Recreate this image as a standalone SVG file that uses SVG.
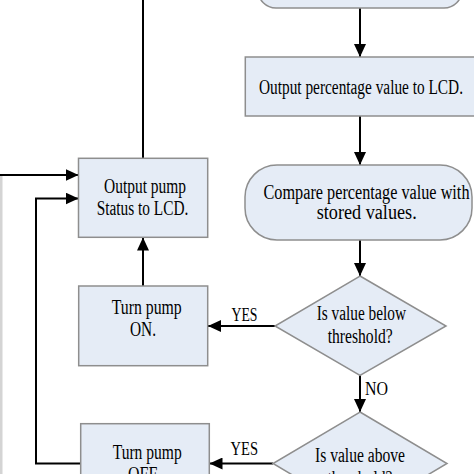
<svg xmlns="http://www.w3.org/2000/svg" width="474" height="474" viewBox="0 0 474 474">
<defs>
<marker id="arr" markerUnits="userSpaceOnUse" markerWidth="14" markerHeight="12" refX="13" refY="6" orient="auto">
<path d="M0,0 L13,6 L0,12 Z" fill="#000"/>
</marker>
<style>
.box{fill:#E5ECF6;stroke:#8E8E8E;stroke-width:1.5}
.ln{fill:none;stroke:#000;stroke-width:2}
.t{font-family:"Liberation Serif","Times New Roman",serif;font-size:20px;fill:#000}
.s{font-family:"Liberation Serif","Times New Roman",serif;font-size:18px;fill:#000}
</style>
</defs>
<rect width="474" height="474" fill="#fff"/>
<g id="connectors">
<line x1="1" y1="175" x2="1" y2="474" stroke="#d4d4d4" stroke-width="3"/>
<line class="ln" x1="143" y1="0" x2="143" y2="158"/>
<line class="ln" x1="360" y1="8" x2="360" y2="57" marker-end="url(#arr)"/>
<line class="ln" x1="360" y1="116" x2="360" y2="165" marker-end="url(#arr)"/>
<line class="ln" x1="360" y1="240" x2="360" y2="276" marker-end="url(#arr)"/>
<line class="ln" x1="275" y1="326" x2="208" y2="326" marker-end="url(#arr)"/>
<line class="ln" x1="143" y1="286" x2="143" y2="237.5" marker-end="url(#arr)"/>
<line class="ln" x1="360" y1="375" x2="360" y2="412" marker-end="url(#arr)"/>
<line class="ln" x1="273" y1="463.5" x2="209.5" y2="463.5" marker-end="url(#arr)"/>
<polyline class="ln" points="81,463.5 36,463.5 36,198.5 78.5,198.5" marker-end="url(#arr)"/>
<line class="ln" x1="0" y1="175" x2="78.5" y2="175" marker-end="url(#arr)"/>
<text class="s" x="231.5" y="321" textLength="26" lengthAdjust="spacingAndGlyphs">YES</text>
<text class="s" x="365" y="395" textLength="23" lengthAdjust="spacingAndGlyphs">NO</text>
<text class="s" x="230.5" y="455" textLength="27.5" lengthAdjust="spacingAndGlyphs">YES</text>
</g>
<g id="start">
<rect class="box" x="258" y="-60" width="204" height="68" rx="18"/>
</g>
<g id="output-percentage">
<rect class="box" x="245.3" y="57" width="240" height="59"/>
<text class="t" x="259" y="94" textLength="204" lengthAdjust="spacingAndGlyphs">Output percentage value to LCD.</text>
</g>
<g id="compare">
<rect class="box" x="245" y="165" width="227" height="75" rx="32"/>
<text class="t" x="263.5" y="198.5" textLength="206" lengthAdjust="spacingAndGlyphs">Compare percentage value with</text>
<text class="t" x="316.7" y="218.5" textLength="100" lengthAdjust="spacingAndGlyphs">stored values.</text>
</g>
<g id="below-threshold">
<polygon class="box" points="360,276 446,326 360,375.5 275,326"/>
<text class="t" x="316.7" y="320" textLength="89.3" lengthAdjust="spacingAndGlyphs">Is value below</text>
<text class="t" x="327.7" y="343.3" textLength="65" lengthAdjust="spacingAndGlyphs">threshold?</text>
</g>
<g id="above-threshold">
<polygon class="box" points="360,412 447,463.5 360,515 273,463.5"/>
<text class="t" x="315" y="461.7" textLength="90" lengthAdjust="spacingAndGlyphs">Is value above</text>
<text class="t" x="327.5" y="484.5" textLength="65" lengthAdjust="spacingAndGlyphs">threshold?</text>
</g>
<g id="output-pump">
<rect class="box" x="78.5" y="158.3" width="129.2" height="79"/>
<text class="t" x="104" y="193.3" textLength="82" lengthAdjust="spacingAndGlyphs">Output pump</text>
<text class="t" x="96.7" y="215" textLength="91.6" lengthAdjust="spacingAndGlyphs">Status to LCD.</text>
</g>
<g id="pump-on">
<rect class="box" x="78.7" y="286" width="129" height="79.7"/>
<text class="t" x="111.7" y="314.3" textLength="70" lengthAdjust="spacingAndGlyphs">Turn pump</text>
<text class="t" x="130" y="336" textLength="26" lengthAdjust="spacingAndGlyphs">ON.</text>
</g>
<g id="pump-off">
<rect class="box" x="80.7" y="423.7" width="128.6" height="80"/>
<text class="t" x="112.7" y="458.7" textLength="69" lengthAdjust="spacingAndGlyphs">Turn pump</text>
<text class="t" x="128" y="480.5" textLength="32" lengthAdjust="spacingAndGlyphs">OFF.</text>
</g>
</svg>
